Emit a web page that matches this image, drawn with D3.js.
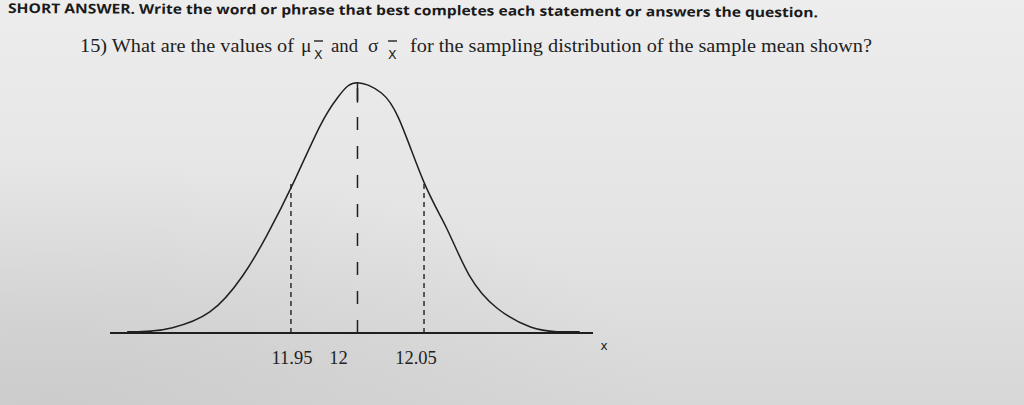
<!DOCTYPE html>
<html><head><meta charset="utf-8">
<script src="https://cdn.jsdelivr.net/npm/d3@7"></script>
<style>html,body{margin:0;padding:0;overflow:hidden;background:#e4e4e4}</style>
</head><body>
<svg id="c" width="1024" height="405"></svg>
<script>
// ---- data ----
const mean = 12;
const sd = 0.05;
const sdDensity = 4.80;
const tickValues = [11.95, 12, 12.05];
const tickLabels = ["11.95", "12", "12.05"];
const curveX = [11.827, 11.845, 11.861, 11.889, 11.914, 11.932, 11.952, 11.972, 11.985, 11.993, 12.000,
                12.008, 12.018, 12.031, 12.050, 12.067, 12.084, 12.105, 12.130, 12.150, 12.167];
const curveY = [0.02, 0.06, 0.17, 0.67, 1.84, 3.12, 4.80, 6.61, 7.50, 7.88, 7.98,
                7.90, 7.65, 6.84, 4.80, 3.34, 1.84, 0.79, 0.19, 0.04, 0.01];
const headerText = "SHORT ANSWER.  Write the word or phrase that best completes each statement or answers the question.";
const questionParts = ["15) What are the values of", "and", "for the sampling distribution of the sample mean shown?"];
const axisLabel = "x";

// ---- drawing ----
const svg = d3.select("#c");
const defs = svg.append("defs");
const g1 = defs.append("linearGradient").attr("id","bg").attr("x1",0).attr("y1",0).attr("x2",0).attr("y2",1);
g1.append("stop").attr("offset","0%").attr("stop-color","#ededed");
g1.append("stop").attr("offset","60%").attr("stop-color","#e3e3e3");
g1.append("stop").attr("offset","100%").attr("stop-color","#d7d7d7");
const g2 = defs.append("radialGradient").attr("id","vig").attr("cx","0.05").attr("cy","1").attr("r","0.6");
g2.append("stop").attr("offset","0%").attr("stop-color","#c9c9c9").attr("stop-opacity",0.8);
g2.append("stop").attr("offset","100%").attr("stop-color","#c9c9c9").attr("stop-opacity",0);
svg.append("rect").attr("width",1024).attr("height",405).attr("fill","url(#bg)");
svg.append("rect").attr("width",1024).attr("height",405).attr("fill","url(#vig)");

const ink = "#1f1f1f";
const x = d3.scaleLinear().domain([11.814, 12.177]).range([110, 593]);
const y = d3.scaleLinear().domain([0, 8]).range([333, 82]);
const pts = curveX.map((v,i)=>[v, curveY[i]]);
const peakY = d3.max(curveY);

// header (slightly tilted)
svg.append("text").attr("x",8).attr("y",13)
  .attr("transform","rotate(0.3,8,13)")
  .attr("font-family","'Open Sans', 'DejaVu Sans', sans-serif").attr("font-weight","bold")
  .attr("font-size",13.5).attr("fill","#1a1a1a")
  .attr("textLength",810).attr("lengthAdjust","spacingAndGlyphs")
  .text(headerText);

// question
const serif = "'Liberation Serif', 'DejaVu Serif', serif";
const q = svg.append("g").attr("fill","#222").attr("font-family",serif).attr("font-size",19.5);
q.append("text").attr("x",80).attr("y",52).attr("textLength",214).attr("lengthAdjust","spacingAndGlyphs").text(questionParts[0]);
q.append("text").attr("x",301).attr("y",52).text("μ");
q.append("text").attr("x",331).attr("y",52).attr("textLength",27).attr("lengthAdjust","spacingAndGlyphs").text(questionParts[1]);
q.append("text").attr("x",368).attr("y",52).text("σ");
q.append("text").attr("x",410).attr("y",52).attr("textLength",462).attr("lengthAdjust","spacingAndGlyphs").text(questionParts[2]);
[314, 388].forEach(px=>{
  q.append("line").attr("x1",px).attr("x2",px+9).attr("y1",41).attr("y2",41).attr("stroke","#222").attr("stroke-width",1.4);
  q.append("text").attr("x",px).attr("y",59).attr("font-family","'DejaVu Sans', sans-serif").attr("font-size",12.5).text("X");
});

// axis line
svg.append("line").attr("x1",x.range()[0]).attr("x2",x.range()[1]).attr("y1",y(0)).attr("y2",y(0))
  .attr("stroke",ink).attr("stroke-width",1.8);

// thick tails at the ends of the curve
svg.append("line").attr("x1",x(curveX[0])).attr("x2",x(curveX[1])+1).attr("y1",y(0)-0.5).attr("y2",y(0)-0.5)
  .attr("stroke",ink).attr("stroke-width",3);
svg.append("line").attr("x1",x(curveX[curveX.length-2])).attr("x2",x(curveX[curveX.length-1])).attr("y1",y(0)-0.5).attr("y2",y(0)-0.5)
  .attr("stroke",ink).attr("stroke-width",3);

// curve
const line = d3.line().x(d=>x(d[0])).y(d=>y(d[1])).curve(d3.curveNatural);
svg.append("path").datum(pts).attr("d",line).attr("fill","none").attr("stroke",ink).attr("stroke-width",1.5);

// center dashed line (solid tick at the base)
svg.append("line").attr("x1",x(mean)).attr("x2",x(mean)).attr("y1",y(0)).attr("y2",y(peakY))
  .attr("stroke",ink).attr("stroke-width",1.5).attr("stroke-dasharray","13,16");
svg.append("line").attr("x1",x(mean)).attr("x2",x(mean)).attr("y1",y(peakY)).attr("y2",y(peakY)+20)
  .attr("stroke",ink).attr("stroke-width",1.5);

// ±1 sd dashed lines
[mean - sd, mean + sd].forEach(v=>{
  svg.append("line").attr("x1",x(v)).attr("x2",x(v)).attr("y1",y(0)).attr("y2",y(sdDensity))
    .attr("stroke",ink).attr("stroke-width",1.4).attr("stroke-dasharray","5,4");
});

// tick labels
const labelShift = {"11.95": 1, "12": -19, "12.05": -8};
svg.append("g").attr("font-family",serif).attr("font-size",18.5).attr("fill","#222").attr("text-anchor","middle")
  .selectAll("text").data(tickValues).join("text")
  .attr("x",(d,i)=>x(d)+labelShift[tickLabels[i]]).attr("y",364)
  .text((d,i)=>tickLabels[i]);

// axis label
svg.append("text").attr("x",604).attr("y",350).attr("text-anchor","middle")
  .attr("font-family","'DejaVu Sans', sans-serif").attr("font-size",12).attr("fill","#222").text(axisLabel);
</script>
</body></html>
